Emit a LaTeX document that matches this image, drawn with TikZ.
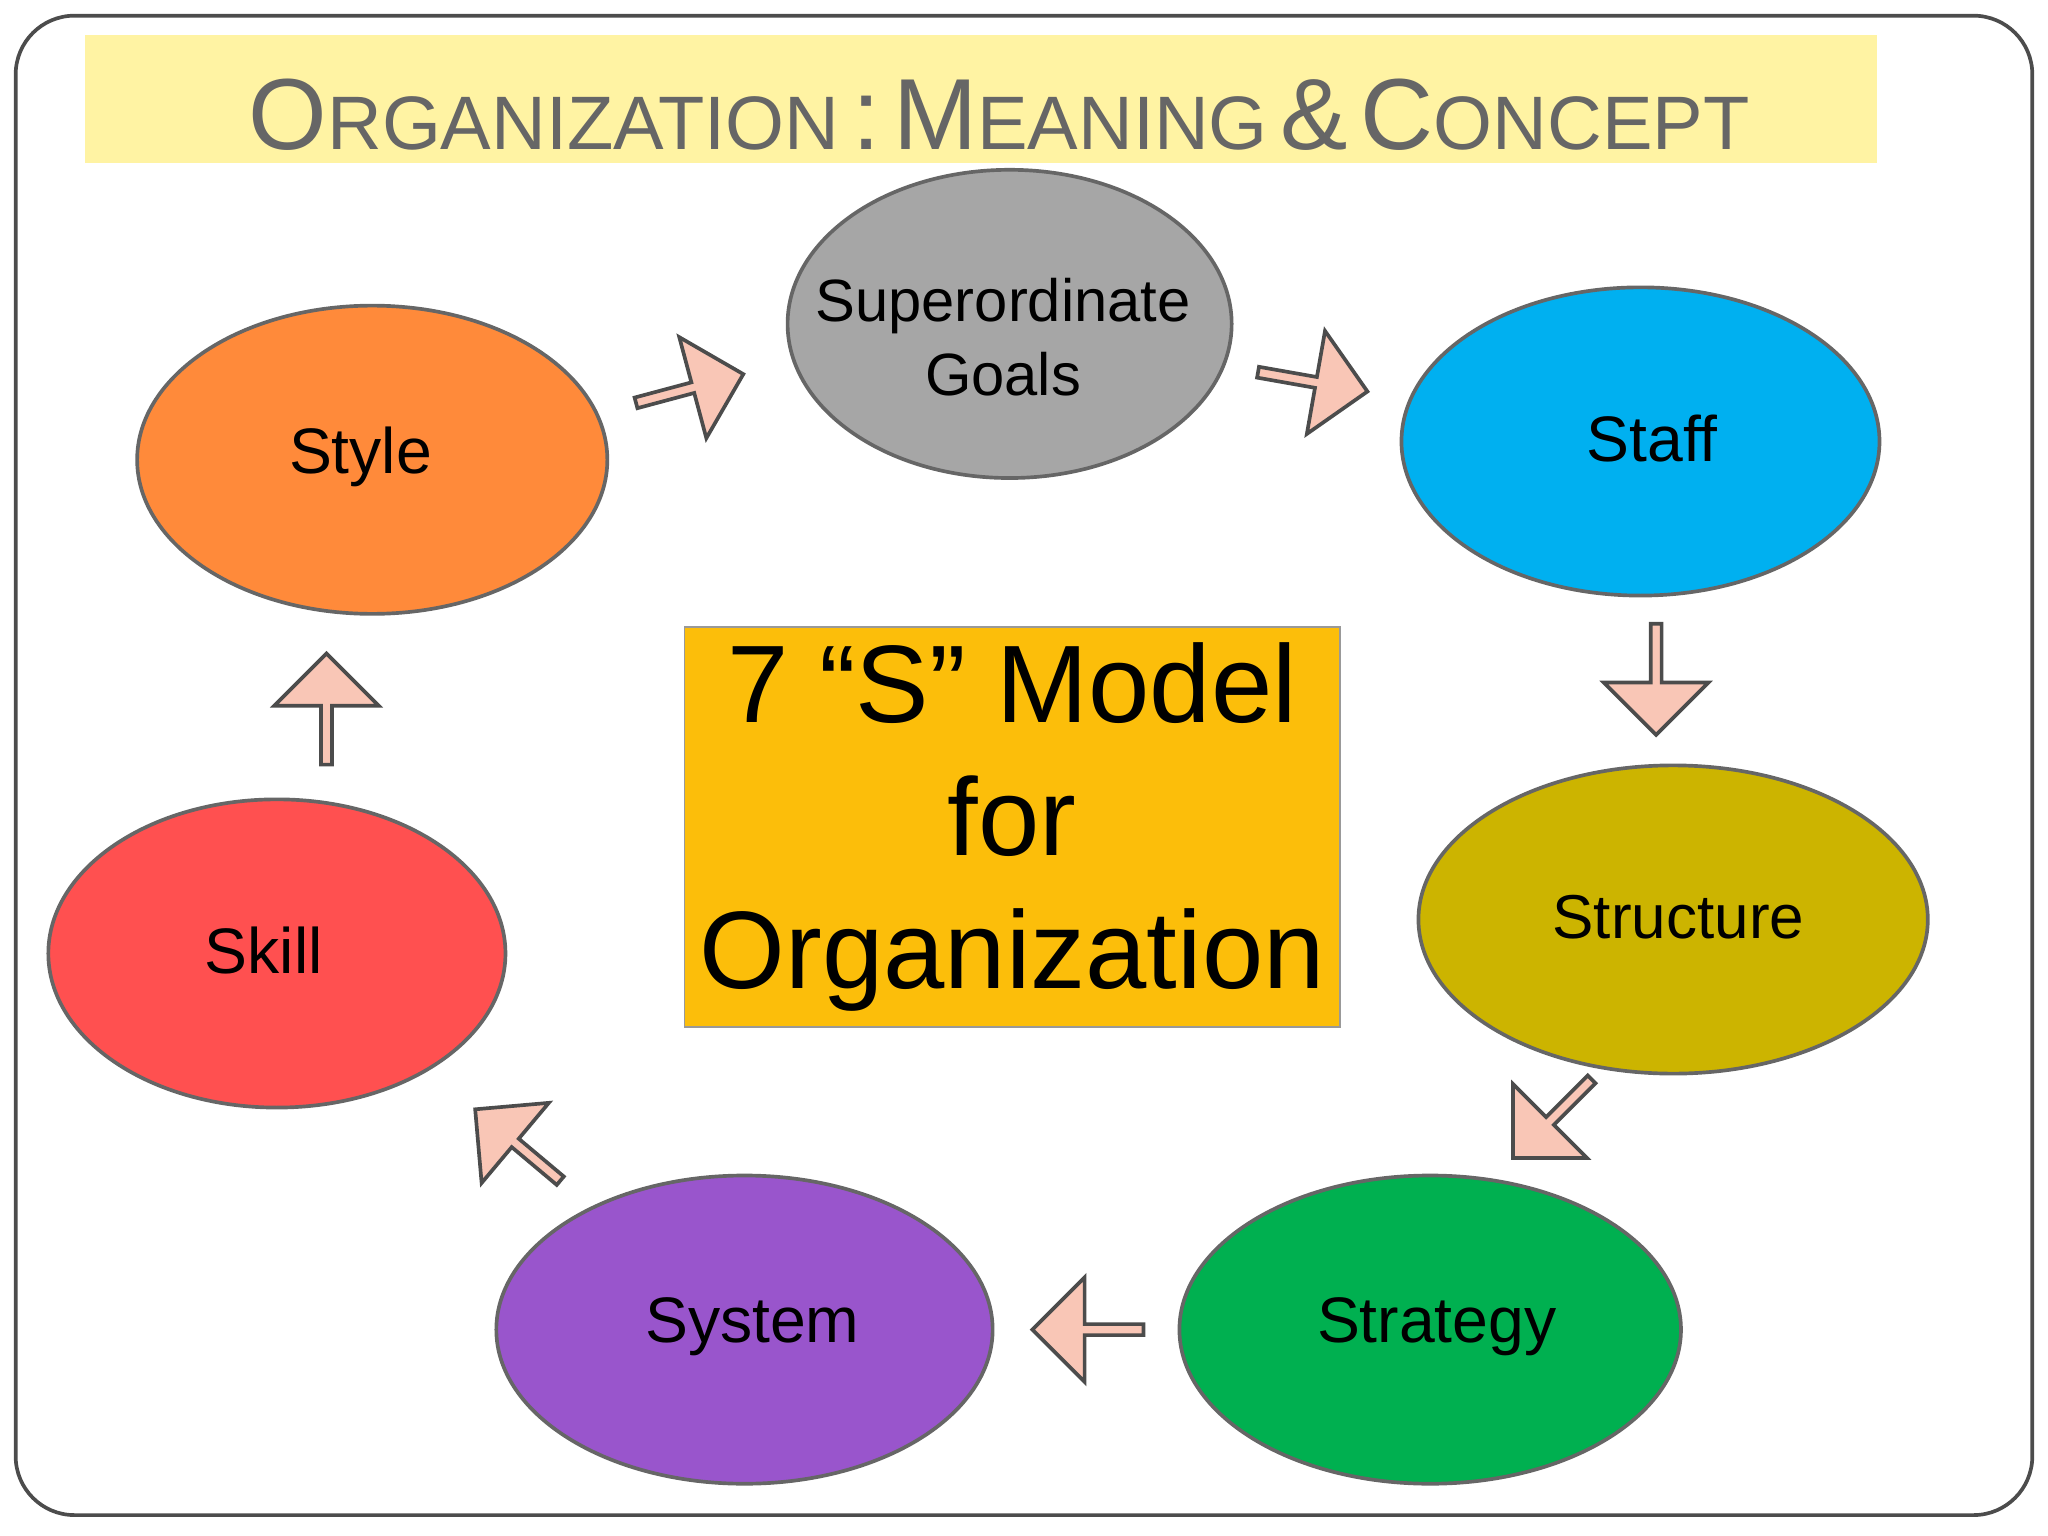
\documentclass[tikz,border=0pt]{standalone}
\usepackage{fontspec}
\setmainfont{Liberation Sans}
\usetikzlibrary{shapes.arrows}
\definecolor{bandyellow}{HTML}{FFF3A3}
\definecolor{titlegray}{HTML}{666666}
\definecolor{goalgray}{HTML}{A6A6A6}
\definecolor{staffblue}{HTML}{00B0F0}
\definecolor{structolive}{HTML}{CCB400}
\definecolor{stratgreen}{HTML}{00B050}
\definecolor{syspurple}{HTML}{9955CC}
\definecolor{skillred}{HTML}{FF5050}
\definecolor{styleorange}{HTML}{FF8A3A}
\definecolor{boxgold}{HTML}{FCBE0A}
\definecolor{arrowpink}{HTML}{F9C6B6}
\tikzset{
  sbubble/.style={draw=black!60, line width=0.8pt, inner sep=0pt, font=\fontsize{13}{15}\selectfont},
  arrowblk/.style={single arrow, draw=black!70, fill=arrowpink, line width=0.8pt,
    minimum height=0.85cm, minimum width=0.8cm, single arrow head extend=0.12cm, inner sep=0pt}
}
\newcommand{\smcap}[2]{{\fontsize{22}{24}\selectfont #1}{\fontsize{16.5}{18}\selectfont #2}}
\begin{document}
\begin{tikzpicture}[x=0.01cm,y=-0.01cm]
\useasboundingbox (0,0) rectangle (1568,1176);
\draw[black!70, line width=0.8pt, rounded corners=0.45cm] (12,12) rectangle (1556,1160);
\fill[bandyellow] (65,27) rectangle (1437,125);
\node[text=titlegray, anchor=west] (title) at (178,88)
  {\smcap{O}{RGANIZATION} \smcap{:}{} \smcap{M}{EANING} \smcap{\&}{} \smcap{C}{ONCEPT}};

% the seven S
\draw[sbubble, fill=goalgray] (773,248) ellipse (170 and 118);
\node[align=center, font=\fontsize{13}{16}\selectfont] (goals) at (768,258) {Superordinate\\Goals};
\draw[sbubble, fill=staffblue] (1256,338) ellipse (183 and 118);
\node[font=\fontsize{14}{16}\selectfont] (staff) at (1265,336) {Staff};
\draw[sbubble, fill=structolive] (1281,704) ellipse (195 and 118);
\node[font=\fontsize{13.5}{16}\selectfont] (struct) at (1285,702) {Structure};
\draw[sbubble, fill=stratgreen] (1095,1018) ellipse (192 and 118);
\node[font=\fontsize{14}{16}\selectfont] (strat) at (1100,1016) {Strategy};
\draw[sbubble, fill=syspurple] (570,1018) ellipse (190 and 118);
\node[font=\fontsize{14}{16}\selectfont] (sys) at (576,1016) {System};
\draw[sbubble, fill=skillred] (212,730) ellipse (175 and 118);
\node[font=\fontsize{14}{16}\selectfont] (skill) at (202,728) {Skill};
\draw[sbubble, fill=styleorange] (285,352) ellipse (180 and 118);
\node[font=\fontsize{14}{16}\selectfont] (style) at (276,350) {Style};

% centre box
\node[draw=black!40, fill=boxgold, minimum width=4.8cm, minimum height=3cm, align=center,
  font=\fontsize{24}{29}\selectfont] (model) at (775,633) {7 “S” Model\\for\\Organization};

% arrows
\node[arrowblk, rotate=15] (a1) at (526,298) {};
\node[arrowblk, rotate=-10] (a2) at (1003,292) {};
\node[arrowblk, rotate=-90] (a3) at (1268,518) {};
\node[arrowblk, rotate=-135] (a4) at (1190,855) {};
\node[arrowblk, rotate=180] (a5) at (835,1018) {};
\node[arrowblk, rotate=140] (a6) at (398,878) {};
\node[arrowblk, rotate=90] (a7) at (250,545) {};
\end{tikzpicture}
\end{document}
